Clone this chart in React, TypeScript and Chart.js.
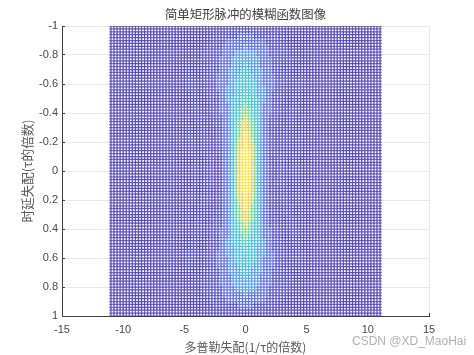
import React, { useEffect, useRef } from "react";
import { Chart, registerables } from "chart.js";

Chart.register(...registerables);

// Right half of the mesh axes; the surface is mirror-symmetric about both axes.
const dopplerHalf = [0,0.25,0.5,0.75,1,1.25,1.5,1.75,2,2.25,2.5,2.75,3,3.25,3.5,3.75,4,4.25,4.5,4.75,5,5.25,5.5,5.75,6,6.25,6.5,6.75,7,7.25,7.5,7.75,8,8.25,8.5,8.75,9,9.25,9.5,9.75,10,10.25,10.5,10.75,11];
const delayHalf = [0,0.02,0.04,0.06,0.08,0.1,0.12,0.14,0.16,0.18,0.2,0.22,0.24,0.26,0.28,0.3,0.32,0.34,0.36,0.38,0.4,0.42,0.44,0.46,0.48,0.5,0.52,0.54,0.56,0.58,0.6,0.62,0.64,0.66,0.68,0.7,0.72,0.74,0.76,0.78,0.8,0.82,0.84,0.86,0.88,0.9,0.92,0.94,0.96,0.98,1];

// Colour level: one row per 0.04 of delay, one char per doppler step.
// Columns not written are the far-field level 0.
const levelRows = [
  "99864322100111001100",
  "99864322100111001100",
  "99864322100111001100",
  "99864322110011100110",
  "98764322110011100110",
  "98754322110011100110",
  "98654322110001110011",
  "87654322110001110011",
  "87654322111000111001",
  "76544322111000111001",
  "66544322211100011100",
  "65444322211100011100",
  "55444332211110001110",
  "54443332211110001110",
  "44443332221111000111",
  "44443322221111000111",
  "44433322221111100011",
  "44333322211111100011",
  "43333222211111110001",
  "33333222211111110000",
  "33332222111111100000",
  "32222222111111000000",
  "22222221111100000000",
  "22211111111000000000",
  "11111110000000000000",
  "00000000000000000000",
];
const levelColors = ["#5f50b6","#6058c2","#6878dc","#5fa4e6","#55c4d8","#5fd4bc","#90d898","#d0d870","#f6d060","#fbe860"];

const titleText = "简单矩形脉冲的模糊函数图像";
const xLabel = "多普勒失配(1/τ的倍数)";
const yLabel = "时延失配(τ的倍数)";
const watermark = "CSDN @XD_MaoHai";
const cjk = '"Noto Sans CJK SC", sans-serif';
const latin = '"Liberation Sans", Arial, sans-serif';

function buildMesh() {
  const pts: { x: number; y: number }[] = [];
  const colors: string[] = [];
  const half = delayHalf.length - 1;
  for (let j = -half; j <= half; j++) {
    const jj = Math.abs(j);
    const row = levelRows[Math.floor(jj / 2)];
    const y = j < 0 ? -delayHalf[jj] : delayHalf[jj];
    for (let i = -(dopplerHalf.length - 1); i < dopplerHalf.length; i++) {
      const ii = Math.abs(i);
      const x = i < 0 ? -dopplerHalf[ii] : dopplerHalf[ii];
      const lv = ii < row.length ? Number(row[ii]) : 0;
      pts.push({ x, y });
      colors.push(levelColors[lv]);
    }
  }
  return { pts, colors };
}

const textPlugin = {
  id: "texts",
  afterDraw(chart: any) {
    const c = chart.ctx;
    const a = chart.chartArea;
    c.save();
    c.textBaseline = "middle";
    c.textAlign = "center";
    c.font = `12.4px ${cjk}`;
    c.fillStyle = "#404040";
    c.fillText(titleText, (a.left + a.right) / 2, 14);
    c.textAlign = "left";
    c.font = `12px ${latin}`;
    c.fillStyle = "#b0b0b0";
    c.fillText(watermark, 352, 342);
    c.restore();
  },
};

export default function App() {
  const ref = useRef<HTMLCanvasElement>(null);
  useEffect(() => {
    document.body.style.margin = "0";
    document.body.style.background = "#fff";
    const { pts, colors } = buildMesh();
    const chart = new Chart(ref.current!, {
      type: "scatter",
      data: {
        datasets: [
          {
            data: pts,
            showLine: false,
            pointStyle: "cross",
            pointRadius: 1.6,
            pointBorderWidth: 1.25,
            pointBorderColor: colors,
            pointBackgroundColor: colors,
          },
        ],
      },
      plugins: [textPlugin],
      options: {
        animation: false,
        responsive: false,
        layout: { padding: { left: 0, right: 45, top: 26, bottom: 0 } },
        plugins: {
          legend: { display: false },
          tooltip: { enabled: false },
          title: { display: false },
        },
        scales: {
          x: {
            type: "linear",
            min: -15,
            max: 15,
            afterFit(s: any) { s.height = 39; },
            ticks: { stepSize: 5, color: "#484848", font: { family: latin, size: 11 }, maxRotation: 0, padding: 10, callback: (v: any) => String(v) },
            grid: { color: "#e8e8e8", tickColor: "#404040", tickLength: -3 },
            border: { color: "#404040", width: 1 },
            title: { display: true, text: xLabel, color: "#585858", font: { family: cjk, size: 12 }, padding: { top: 3, bottom: 0 } },
          },
          y: {
            type: "linear",
            reverse: true,
            min: -1,
            max: 1,
            afterFit(s: any) { s.width = 62; },
            ticks: { stepSize: 0.2, color: "#484848", font: { family: latin, size: 11 }, padding: 7, callback: (v: any) => String(Number(Number(v).toFixed(1))) },
            grid: { color: "#e8e8e8", tickColor: "#404040", tickLength: -3 },
            border: { color: "#404040", width: 1 },
            title: { display: true, text: yLabel, color: "#585858", font: { family: cjk, size: 12.6 }, padding: { top: 20, bottom: 0 } },
          },
        },
      } as any,
    });
    return () => chart.destroy();
  }, []);
  return <canvas ref={ref} width={474} height={355} style={{ display: "block", width: 474, height: 355 }} />;
}
